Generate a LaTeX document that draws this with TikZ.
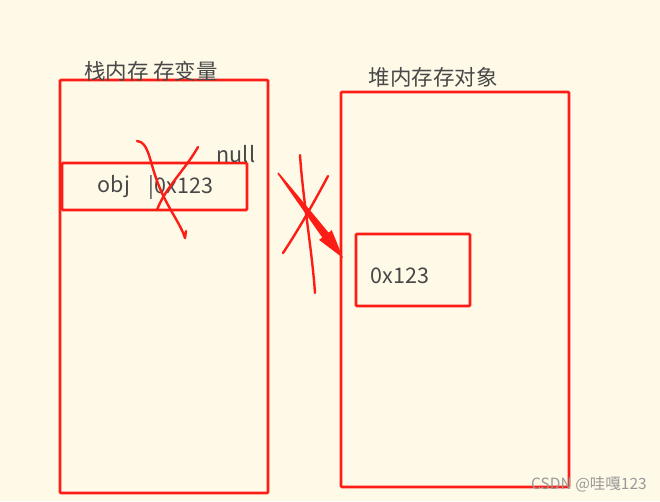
\documentclass[tikz,border=0pt]{standalone}
\usepackage{fontspec}
\setmainfont{Noto Sans CJK SC}
\usetikzlibrary{calc}
\definecolor{paper}{RGB}{255,249,231}
\definecolor{pen}{RGB}{252,30,22}
\definecolor{ink}{RGB}{72,72,72}
\tikzset{
  box/.style={draw=pen,line width=2.6pt,rounded corners=1pt},
  memtext/.style={text=ink,font=\fontsize{21.5}{24}\selectfont,inner sep=0pt},
  scribble/.style={draw=pen,line width=2.4pt,line cap=round,line join=round}
}

\begin{document}
\begin{tikzpicture}[x=1pt,y=-1pt]
\fill[paper] (0,0) rectangle (660,501);
\useasboundingbox (0,0) rectangle (660,501);
% stack and heap
\draw[box] (60,80) rectangle (268,493);
\draw[box] (62,163) rectangle (247,210);
\draw[box] (341,92) rectangle (569,487);
\draw[box] (356,234) rectangle (470,306);
\node[memtext] (stack) at (151,71) {栈内存 存变量};
\node[memtext] (heap) at (433,77) {堆内存存对象};
\node[memtext] (obj) at (114,187) {obj};
\node[memtext] (ref) at (181,187) {|0x123};
\node[memtext] (null) at (236,154) {null};
\node[memtext] (addr) at (400,276) {0x123};
\node[text=black!40,font=\fontsize{15.5}{18}\selectfont,inner sep=0pt] (mark) at (589,484) {CSDN @哇嘎123};
% crossed out reference
\path (278,173) coordinate(from)
(343,258) coordinate(to)
($(from)!0.73!(to)$) coordinate(neck);
\draw[scribble] (137,141) .. controls (148,142) and (149,158) .. (156,178)
.. controls (165,205) and (180,222) .. (185,238) -- (186,231);
\draw[scribble] (198,147) .. controls (185,170) and (165,188) .. (157,210);
\fill[pen] ($(from)!0.8pt!90:(to)$) -- ($(neck)!4pt!90:(to)$)
-- ($(neck)!8pt!90:(to)$) -- (to) -- ($(neck)!8pt!-90:(to)$)
-- ($(neck)!4pt!-90:(to)$) -- ($(from)!0.8pt!-90:(to)$) -- cycle;
\draw[scribble] (300,155) .. controls (303,200) and (312,250) .. (315,293);
\draw[scribble] (328,176) .. controls (310,210) and (295,235) .. (283,253);
\end{tikzpicture}
\end{document}
